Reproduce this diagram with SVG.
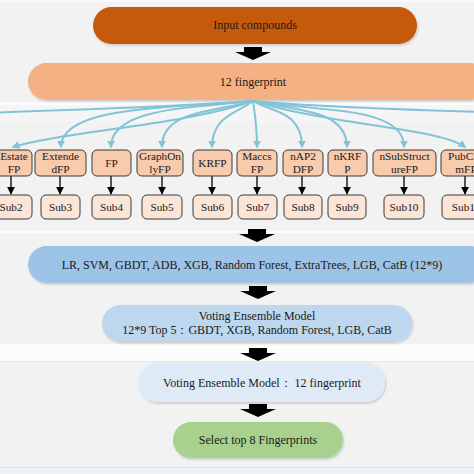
<svg xmlns="http://www.w3.org/2000/svg" width="474" height="474" viewBox="0 0 474 474">
<style>
text{font-family:"Liberation Serif","Times New Roman",serif;font-size:12px;fill:#1a1a1a;text-anchor:middle}
.bx text{font-size:11.3px}
.fp{fill:#f8cbad;stroke:#3a3a3a;stroke-width:1}
.sub{fill:#fbe5d6;stroke:#3a3a3a;stroke-width:1}
.blk{fill:#000}
.cv{fill:none;stroke:#82c4d6;stroke-width:2}
.dn{stroke:#000;stroke-width:1.3;fill:none}
</style>
<defs>
<marker id="ba" viewBox="0 0 10 10" refX="8" refY="5" markerWidth="4" markerHeight="4" orient="auto"><path d="M0,0 L10,5 L0,10 z" fill="#82c4d6"/></marker>
<marker id="ka" viewBox="0 0 10 10" refX="9" refY="5" markerWidth="6" markerHeight="6" orient="auto"><path d="M0,0 L10,5 L0,10 z" fill="#000"/></marker>
<filter id="sh" x="-10%" y="-20%" width="120%" height="150%"><feDropShadow dx="1" dy="1.5" stdDeviation="1.2" flood-color="#000" flood-opacity="0.18"/></filter>
<symbol id="bigarrow" overflow="visible"><path d="M-9,0 H9 V5 H18 L0,13 L-18,5 H-9 Z"/></symbol>
</defs>
<!-- background bands -->
<rect x="0" y="0" width="474" height="474" fill="#f2f2f2"/>
<rect x="0" y="0" width="474" height="2" fill="#fafafa"/>
<rect x="0" y="102" width="474" height="3" fill="#fbfbfb"/>
<rect x="0" y="105" width="474" height="17" fill="#f5f5f5"/>
<rect x="0" y="231" width="474" height="2" fill="#fafafa"/>
<rect x="0" y="344" width="474" height="17" fill="#fcfcfc"/>
<rect x="0" y="361" width="474" height="1" fill="#e4e8ee"/>
<rect x="0" y="467" width="474" height="7" fill="#eef2f8"/>
<rect x="0" y="467" width="474" height="1" fill="#d9e2ee"/>

<g id="input"><rect x="93" y="7" width="324" height="37" rx="18.5" fill="#c55a11" filter="url(#sh)"/><text x="255" y="29">Input compounds</text></g>
<g id="fp12"><rect x="28" y="63" width="460" height="37" rx="18.5" fill="#f4b183" filter="url(#sh)"/><text x="253" y="86">12 fingerprint</text></g>

<g id="connectors">
<g class="blk">
<use href="#bigarrow" x="253" y="47"/>
<use href="#bigarrow" x="257" y="229"/>
<use href="#bigarrow" x="258" y="286"/>
<use href="#bigarrow" x="258" y="348"/>
<use href="#bigarrow" x="258" y="404"/>
</g>
<path class="cv" d="M253,101 C150,108 60,110 -10,113"/>
<path class="cv" d="M253,101 C330,108 420,110 484,112"/>
<path class="cv" marker-end="url(#ba)" d="M253,101 C185,125 60,132 13,147"/>
<path class="cv" marker-end="url(#ba)" d="M253,101 C170,108 61,106 61,147"/>
<path class="cv" marker-end="url(#ba)" d="M253,101 C190,108 111,108 111,147"/>
<path class="cv" marker-end="url(#ba)" d="M253,101 C215,112 162,110 162,147"/>
<path class="cv" marker-end="url(#ba)" d="M253,101 C240,112 212,115 212,147"/>
<path class="cv" marker-end="url(#ba)" d="M253,101 C255,115 257,125 257,147"/>
<path class="cv" marker-end="url(#ba)" d="M253,101 C270,112 302,110 302,147"/>
<path class="cv" marker-end="url(#ba)" d="M253,101 C290,110 347,108 347,147"/>
<path class="cv" marker-end="url(#ba)" d="M253,101 C320,112 404,106 404,147"/>
<path class="cv" marker-end="url(#ba)" d="M253,101 C330,125 440,128 465,147"/>
<g class="dn" marker-end="url(#ka)">
<path d="M11,176 V194"/><path d="M60,176 V194"/><path d="M111,176 V194"/><path d="M162,176 V194"/><path d="M212,176 V194"/>
<path d="M257,176 V194"/><path d="M302,176 V194"/><path d="M347,176 V194"/><path d="M404,176 V194"/><path d="M465,176 V194"/>
</g>
</g>

<g id="fp-row" class="bx">
<g id="estate"><rect class="fp" x="-8" y="150" width="40" height="26" rx="5"/><text x="14" y="159.5">Estate</text><text x="14" y="172.5">FP</text></g>
<g id="extended"><rect class="fp" x="35" y="150" width="51" height="26" rx="5"/><text x="60.5" y="159.5">Extende</text><text x="60.5" y="172.5">dFP</text></g>
<g id="fp"><rect class="fp" x="92" y="150" width="39" height="26" rx="5"/><text x="111.5" y="167">FP</text></g>
<g id="graphonly"><rect class="fp" x="137" y="150" width="46" height="26" rx="5"/><text x="160" y="159.5">GraphOn</text><text x="160" y="172.5">lyFP</text></g>
<g id="krfp"><rect class="fp" x="193" y="150" width="39" height="26" rx="5"/><text x="212.5" y="167">KRFP</text></g>
<g id="maccs"><rect class="fp" x="237" y="150" width="40" height="26" rx="5"/><text x="257" y="159.5">Maccs</text><text x="257" y="172.5">FP</text></g>
<g id="nap2d"><rect class="fp" x="283" y="150" width="40" height="26" rx="5"/><text x="303" y="159.5">nAP2</text><text x="303" y="172.5">DFP</text></g>
<g id="nkrfp"><rect class="fp" x="328" y="150" width="39" height="26" rx="5"/><text x="347.5" y="159.5">nKRF</text><text x="347.5" y="172.5">P</text></g>
<g id="nsub"><rect class="fp" x="373" y="150" width="63" height="26" rx="5"/><text x="404.5" y="159.5">nSubStruct</text><text x="404.5" y="172.5">ureFP</text></g>
<g id="pubchem"><rect class="fp" x="441" y="150" width="50" height="26" rx="5"/><text x="466" y="159.5">PubChe</text><text x="466" y="172.5">mFP</text></g>
</g>

<g id="sub-row" class="bx">
<g id="sub2"><rect class="sub" x="-10" y="195" width="42" height="24" rx="5"/><text x="11" y="211">Sub2</text></g>
<g id="sub3"><rect class="sub" x="41" y="195" width="39" height="24" rx="5"/><text x="60.5" y="211">Sub3</text></g>
<g id="sub4"><rect class="sub" x="92" y="195" width="39" height="24" rx="5"/><text x="111.5" y="211">Sub4</text></g>
<g id="sub5"><rect class="sub" x="142" y="195" width="40" height="24" rx="5"/><text x="162" y="211">Sub5</text></g>
<g id="sub6"><rect class="sub" x="193" y="195" width="39" height="24" rx="5"/><text x="212.5" y="211">Sub6</text></g>
<g id="sub7"><rect class="sub" x="238" y="195" width="39" height="24" rx="5"/><text x="257.5" y="211">Sub7</text></g>
<g id="sub8"><rect class="sub" x="284" y="195" width="38" height="24" rx="5"/><text x="303" y="211">Sub8</text></g>
<g id="sub9"><rect class="sub" x="328" y="195" width="38" height="24" rx="5"/><text x="347" y="211">Sub9</text></g>
<g id="sub10"><rect class="sub" x="384" y="195" width="40" height="24" rx="5"/><text x="404" y="211">Sub10</text></g>
<g id="sub11"><rect class="sub" x="442" y="195" width="48" height="24" rx="5"/><text x="466" y="211">Sub11</text></g>
</g>

<g id="models"><rect x="28" y="246" width="460" height="37" rx="18.5" fill="#9dc3e6" filter="url(#sh)"/><text x="252" y="269">LR, SVM, GBDT, ADB, XGB, Random Forest, ExtraTrees, LGB, CatB (12*9)</text></g>
<g id="voting"><rect x="102" y="305" width="310" height="37" rx="18.5" fill="#bdd7ee" filter="url(#sh)"/><text x="257" y="320">Voting Ensemble Model</text><text x="257" y="334">12*9 Top 5：GBDT, XGB, Random Forest, LGB, CatB</text></g>
<g id="voting12"><rect x="138" y="363" width="247" height="39" rx="19.5" fill="#deebf7" filter="url(#sh)"/><text x="262" y="387">Voting Ensemble Model： 12 fingerprint</text></g>
<g id="select"><rect x="173" y="422" width="170" height="36" rx="18" fill="#a9d18e" filter="url(#sh)"/><text x="258" y="444">Select top 8 Fingerprints</text></g>
</svg>
